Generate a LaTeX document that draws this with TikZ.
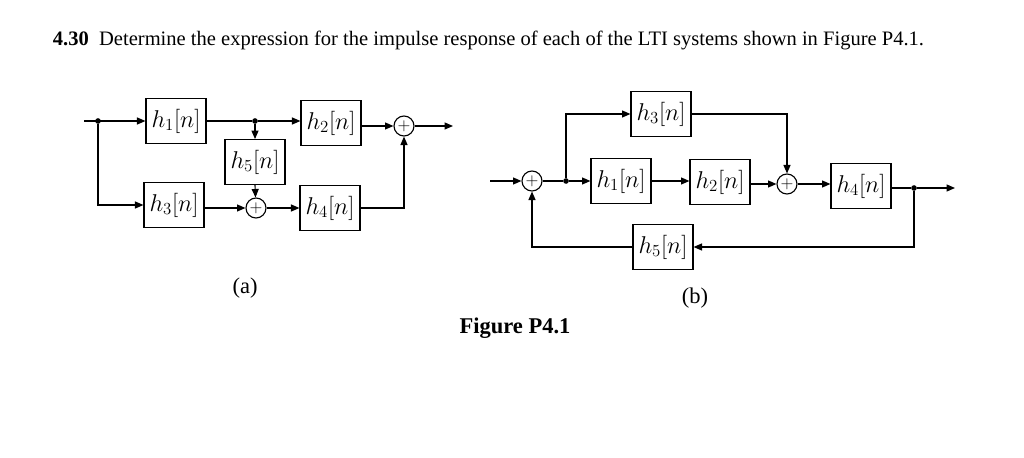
\documentclass[tikz,border=0pt]{standalone}
\usepackage{fontspec}
\setmainfont{Liberation Serif}
\usetikzlibrary{arrows.meta}
\begin{document}
\begin{tikzpicture}[x=0.025cm,y=-0.025cm,
  blk/.style={draw,line width=0.8pt,minimum width=1.5cm,minimum height=1.12cm,inner sep=0pt,font=\fontsize{17}{17}\selectfont},
  add/.style={draw,circle,line width=0.8pt,minimum size=0.5cm,inner sep=0pt,font=\fontsize{13}{13}\selectfont},
  dot/.style={circle,fill,inner sep=0pt,minimum size=4pt},
  ar/.style={-{Triangle[length=6pt,width=5pt]},line width=0.8pt},
  ln/.style={line width=0.8pt}]
\useasboundingbox (0,0) rectangle (1024,458);
% title
\node[anchor=west,font=\fontsize{14.6}{15}\selectfont] (title) at (48,40) {\textbf{4.30}\ \ Determine the expression for the impulse response of each of the LTI systems shown in Figure P4.1.};
% (a)
\coordinate (ain) at (84,121);
\node[dot] (aj1) at (98,121) {};
\node[blk] (ah1) at (176,121) {$h_1[n]$};
\node[dot] (aj2) at (255,121) {};
\node[blk] (ah2) at (331,123) {$h_2[n]$};
\node[add] (aa1) at (404,126) {$+$};
\coordinate (aout) at (453,126);
\node[blk] (ah5) at (255,162) {$h_5[n]$};
\node[blk] (ah3) at (174,205) {$h_3[n]$};
\node[add] (aa2) at (256,208) {$+$};
\node[blk] (ah4) at (330,208) {$h_4[n]$};
\draw[ar] (ain) -- (ah1.west);
\draw[ln] (ah1.east) -- (aj2);
\draw[ar] (aj2) -- (ah2.west |- aj2);
\draw[ar] (aj2) -- (ah5.north);
\draw[ar] (ah2.east |- aa1) -- (aa1);
\draw[ar] (aa1) -- (aout);
\draw[ar] (aj1) |- (ah3.west);
\draw[ar] (ah3.east |- aa2) -- (aa2);
\draw[ar] (ah5.south) -- (aa2);
\draw[ar] (aa2) -- (ah4.west);
\draw[ar] (ah4.east) -| (aa1.south);
\node[font=\fontsize{16}{16}\selectfont] (la) at (245,288) {(a)};
% (b)
\coordinate (bin) at (490,181);
\node[add] (ba1) at (532,181) {$+$};
\node[dot] (bj1) at (566,181) {};
\node[blk] (bh3) at (661,114) {$h_3[n]$};
\node[blk] (bh1) at (621,181) {$h_1[n]$};
\node[blk] (bh2) at (720,182) {$h_2[n]$};
\node[add] (ba2) at (787,184) {$+$};
\node[blk] (bh4) at (861,186) {$h_4[n]$};
\node[dot] (bj2) at (914,188) {};
\coordinate (bout) at (955,188);
\node[blk] (bh5) at (663,247) {$h_5[n]$};
\coordinate (bc) at (914,247);
\draw[ar] (bin) -- (ba1);
\draw[ln] (ba1) -- (bj1);
\draw[ar] (bj1) -- (bh1.west |- bj1);
\draw[ar] (bj1) |- (bh3.west);
\draw[ar] (bh3.east) -| (ba2.north);
\draw[ar] (bh1.east) -- (bh2.west |- bh1.east);
\draw[ar] (bh2.east |- ba2) -- (ba2);
\draw[ar] (ba2) -- (bh4.west |- ba2);
\draw[ln] (bh4.east |- bj2) -- (bj2);
\draw[ar] (bj2) -- (bout);
\draw[ar] (bj2) -- (bc) -- (bh5.east);
\draw[ar] (bh5.west) -| (ba1.south);
\node[font=\fontsize{16}{16}\selectfont] (lb) at (695,298) {(b)};
\node[font=\bfseries\fontsize{16}{16}\selectfont] (fig) at (515,328) {Figure P4.1};
\end{tikzpicture}
\end{document}
